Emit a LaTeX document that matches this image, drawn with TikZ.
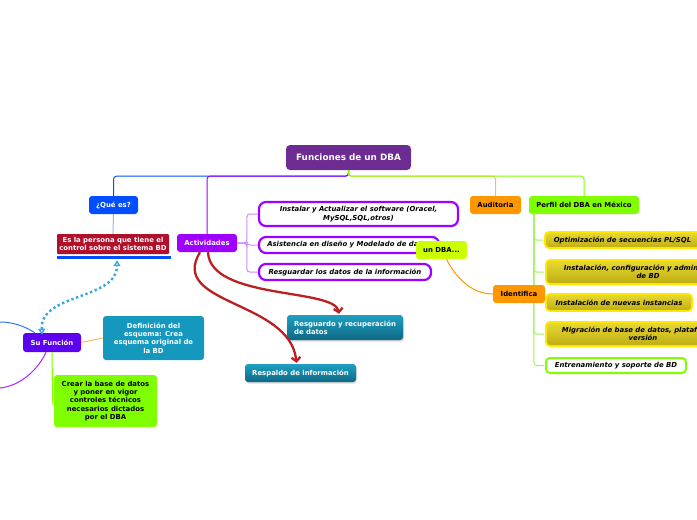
\documentclass[tikz,border=0pt]{standalone}
\usepackage{fontspec}
\setmainfont{DejaVu Sans}
\usetikzlibrary{arrows.meta,shadows}

\definecolor{rootcol}{RGB}{108,44,145}
\definecolor{quecol}{RGB}{0,78,255}
\definecolor{quelight}{RGB}{150,178,255}
\definecolor{personacol}{RGB}{176,16,42}
\definecolor{actcol}{RGB}{160,0,255}
\definecolor{actlight}{RGB}{206,140,255}
\definecolor{dbacol}{RGB}{204,255,0}
\definecolor{audcol}{RGB}{255,152,0}
\definecolor{audlight}{RGB}{255,185,95}
\definecolor{perfcol}{RGB}{128,255,0}
\definecolor{perflight}{RGB}{160,245,90}
\definecolor{gold1}{RGB}{232,218,52}
\definecolor{gold2}{RGB}{190,172,18}
\definecolor{itemborder}{RGB}{255,232,0}
\definecolor{funcol}{RGB}{94,0,240}
\definecolor{defcol}{RGB}{20,152,190}
\definecolor{teal1}{RGB}{30,160,195}
\definecolor{teal2}{RGB}{14,104,132}
\definecolor{dotcol}{RGB}{50,168,222}
\definecolor{redcol}{RGB}{186,32,34}

\newcommand{\rootfont}{\fontsize{8.8}{10}\selectfont\bfseries}
\newcommand{\nodefont}{\fontsize{6.9}{8.4}\selectfont\bfseries}
\newcommand{\itemfont}{\fontsize{6.9}{8.4}\selectfont\bfseries\itshape}

\begin{document}
\begin{tikzpicture}[x=1pt,y=-1pt,
    every node/.style={inner sep=1pt, align=center},
    topic/.style={rounded corners=3pt, font=\nodefont, text=white},
    tarea/.style={draw=actcol, line width=2.2pt, fill=white, rounded corners=7pt, font=\itemfont},
    perfitem/.style={draw=itemborder, line width=1.8pt, top color=gold1, bottom color=gold2, rounded corners=4pt, font=\itemfont},
    lastitem/.style={draw=perfcol, line width=2pt, fill=white, rounded corners=4pt, font=\itemfont},
    copia/.style={top color=teal1, bottom color=teal2, rounded corners=3pt, font=\nodefont, text=white,
      drop shadow={shadow xshift=1pt, shadow yshift=-1.5pt, opacity=0.3}},
    rama/.style={line width=1pt, rounded corners=3pt},
    redarrow/.style={draw=redcol, line width=2.3pt, -{Straight Barb[length=4pt,width=9pt]}},
    dotlink/.style={draw=dotcol, line width=2.4pt, dash pattern=on 2.4pt off 2.6pt,
      {Triangle[open,length=6pt,width=7pt,line width=1.4pt]}-{Triangle[open,length=6pt,width=7pt,line width=1.4pt]}}
  ]
  \clip (0,0) rectangle (697,520);

  % main topic and first level
  \node[topic, fill=rootcol, rounded corners=4pt, minimum width=125pt, minimum height=25pt, font=\rootfont] (root) at (348.5,157.5) {Funciones de un DBA};
  \node[topic, fill=quecol, minimum width=49pt, minimum height=18pt] (que) at (113.5,205) {¿Qué es?};
  \node[topic, fill=actcol, minimum width=60pt, minimum height=18pt] (act) at (207,243) {Actividades};
  \node[topic, fill=audcol, text=black, minimum width=51pt, minimum height=18pt] (auditoria) at (495.5,205) {Auditoria};
  \node[topic, fill=perfcol, text=black, minimum width=110pt, minimum height=18pt] (perfil) at (584,205) {Perfil del DBA en México};

  \draw[rama, quecol] (root.south) -- ++(0,6) -| (que.north);
  \draw[rama, actcol] (root.south) -- ++(0,6) -| (act.north);
  \draw[rama, audlight] (root.south) -- ++(0,6) -| (auditoria.north);
  \draw[rama, perfcol] (root.south) -- ++(0,6) -| (perfil.north);

  % que es
  \node[topic, fill=personacol, rounded corners=1pt, minimum width=112pt, minimum height=20pt] (persona) at (113,244) {Es la persona que tiene el\\control sobre el sistema BD};
  \draw[line width=1pt, quelight] (que.south) -- (persona.north);
  \draw[line width=3pt, quecol] ([yshift=-3pt]persona.south west) -- ([yshift=-3pt,xshift=2pt]persona.south east);

  % actividades
  \node[tarea, minimum width=199pt, minimum height=24pt] (instalar) at (358.5,214) {Instalar y Actualizar el software (Oracel,\\MySQL,SQL,otros)};
  \node[tarea, minimum width=180pt, minimum height=16pt] (asistencia) at (349,245) {Asistencia en diseño y Modelado de datos};
  \node[tarea, minimum width=172pt, minimum height=16pt] (resguardar) at (345,272) {Resguardar los datos de la información};
  \draw[rama, actlight] (act.east) -| ([xshift=-11pt]instalar.west) -- (instalar.west);
  \draw[rama, actlight] (act.east) -| ([xshift=-11pt]asistencia.west) -- (asistencia.west);
  \draw[rama, actlight] (act.east) -| ([xshift=-11pt]resguardar.west) -- (resguardar.west);

  \node[copia, minimum width=116pt, minimum height=25pt, align=left] (resguardo) at (345,327.5) {Resguardo y recuperación\\de datos};
  \node[copia, minimum width=111pt, minimum height=18pt] (respaldo) at (300.5,373) {Respaldo de información};
  \draw[redarrow] ([xshift=1pt]act.south) .. controls (210,300) and (335,288) .. ([xshift=-6pt,yshift=1pt]resguardo.north);
  \draw[redarrow] ([xshift=-7pt]act.south) .. controls (168,305) and (290,300) .. ([xshift=-4pt,yshift=1pt]respaldo.north);

  % perfil
  \node[perfitem, minimum width=155pt, minimum height=16pt] (optimizacion) at (622.5,240) {Optimización de secuencias PL/SQL};
  \node[perfitem, minimum width=204pt, minimum height=24pt] (instalacion) at (648,272) {Instalación, configuración y administración\\de BD};
  \node[perfitem, minimum width=146pt, minimum height=17pt] (nuevas) at (619,302.5) {Instalación de nuevas instancias};
  \node[perfitem, minimum width=194pt, minimum height=24pt] (migracion) at (643,334) {Migración de base de datos, plataforma y\\versión};
  \node[lastitem, minimum width=140pt, minimum height=15pt] (entrenamiento) at (616,365.5) {Entrenamiento y soporte de BD};
  \foreach \n in {optimizacion,instalacion,nuevas,migracion,entrenamiento}
    \draw[rama, perflight] ([xshift=5pt]perfil.south west) |- ([xshift=-1pt]\n.west);

  % un DBA
  \node[topic, fill=dbacol, text=black, minimum width=51pt, minimum height=18pt] (undba) at (441.5,250) {un DBA...};
  \node[topic, fill=audcol, text=black, minimum width=52pt, minimum height=18pt] (identifica) at (519,294) {Identifica};
  \draw[line width=1pt, audcol] ([xshift=5pt]undba.south) .. controls (458,282) and (475,294) .. (identifica.west);

  % su funcion
  \coordinate (izqA) at (0,322);
  \coordinate (izqB) at (0,388);
  \node[topic, fill=funcol, minimum width=58pt, minimum height=19pt] (funcion) at (52,342.5) {Su Función};
  \node[topic, fill=defcol, minimum width=101pt, minimum height=44pt] (definicion) at (153.5,338) {Definición del\\esquema: Crea\\esquema original de\\la BD};
  \node[topic, fill=perfcol, text=black, minimum width=103pt, minimum height=52pt] (crear) at (105.5,401) {Crear la base de datos\\y poner en vigor\\controles técnicos\\necesarios dictados\\por el DBA};
  \draw[line width=1pt, quecol!80] (izqA) .. controls (15,322) and (28,328) .. ([xshift=12pt]funcion.north west);
  \draw[line width=1pt, actcol!85] ([xshift=-6pt]funcion.south) .. controls (38,370) and (20,386) .. (izqB);
  \draw[line width=1pt, audlight] (funcion.east) -- (definicion.west);
  \draw[line width=1pt, perfcol] (funcion.south) -- ([xshift=-1pt,yshift=-4pt]crear.west);
  \draw[dotlink] ([xshift=-10pt,yshift=-2pt]funcion.north) .. controls (40,293) and (117,300) .. ([xshift=4pt,yshift=-6pt]persona.south);
\end{tikzpicture}
\end{document}
